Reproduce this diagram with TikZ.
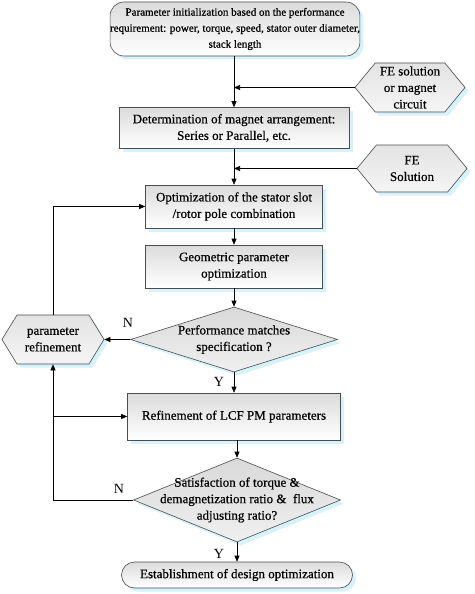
\documentclass[tikz,border=0pt]{standalone}
\usepackage{fontspec}
\setmainfont{Liberation Serif}[UprightFeatures={FakeBold=0.6}]
\newfontfamily\lblfont{Liberation Serif}
\usetikzlibrary{arrows.meta,shapes.geometric,shapes.symbols,shadows,calc}
\begin{document}
\begin{tikzpicture}[x=1pt,y=-1pt,
  shadowed/.style={drop shadow={fill=cyan!16, shadow xshift=3.5pt, shadow yshift=-3.5pt, opacity=1}},
  base/.style={draw=black!70, line width=0.6pt, top color=gray!28, bottom color=white, shadowed, align=center, inner sep=0pt, font=\fontsize{13}{16.5}\selectfont},
  boxnode/.style={base, rectangle},
  roundnode/.style={base, rectangle, rounded corners=13pt},
  decision/.style={base, diamond, top color=gray!30, bottom color=gray!12},
  hexnode/.style={base, signal, signal to=west and east, top color=gray!22, bottom color=gray!8},
  txt/.style={align=center, inner sep=0pt, font=\fontsize{13}{16.5}\selectfont},
  conn/.style={line width=0.6pt, black},
  arr/.style={conn, -{Triangle[length=6pt,width=5pt]}},
  lbl/.style={font=\lblfont\fontsize{14}{16}\selectfont}
]
\useasboundingbox (0,0) rectangle (474,594);

\node[roundnode, rounded corners=14pt, minimum width=244pt, minimum height=54pt, font=\fontsize{11}{16}\selectfont] (init) at (235,29)
  {Parameter initialization based on the performance\\requirement: power, torque, speed, stator outer diameter,\\stack length};
\node[hexnode, minimum width=110pt, minimum height=49pt, signal pointer angle=101] (fe1) at (410,87.5)
  {FE solution\\or magnet\\circuit};
\node[boxnode, minimum width=230pt, minimum height=41pt] (det) at (234,128)
  {Determination of magnet arrangement:\\Series or Parallel, etc.};
\node[hexnode, minimum width=110pt, minimum height=47pt, signal pointer angle=101] (fe2) at (412,168.5)
  {FE\\Solution};
\node[boxnode, minimum width=177pt, minimum height=43pt] (opt) at (234,206.5)
  {Optimization of the stator slot\\/rotor pole combination};
\node[boxnode, minimum width=177pt, minimum height=43pt] (geo) at (234,266.5)
  {Geometric parameter\\optimization};
\node[decision, minimum width=207pt, minimum height=65pt] (d1) at (234,339.5) {};
\node[txt] (d1t) at (d1.center) {Performance matches\\specification ?};
\node[hexnode, minimum width=102pt, minimum height=49pt, signal pointer angle=117] (pr) at (53,339.5)
  {parameter\\refinement};
\node[boxnode, minimum width=213pt, minimum height=47pt] (ref) at (234,416.5)
  {Refinement of LCF PM parameters};
\node[decision, minimum width=207pt, minimum height=84pt] (d2) at (237,500) {};
\node[txt] (d2t) at (d2.center) {Satisfaction of torque \&\\demagnetization ratio \&~ flux\\adjusting ratio?};
\node[roundnode, minimum width=231pt, minimum height=26pt] (fin) at (237,575)
  {Establishment of design optimization};

\draw[arr] (init.south -| det.north) -- (det.north);
\draw[arr] (fe1.west) -- (fe1.west -| det.north);
\draw[arr] (det.south) -- (opt.north);
\draw[arr] (fe2.west) -- (fe2.west -| opt.north);
\draw[arr] (opt.south) -- (geo.north);
\draw[arr] (geo.south) -- (d1.north);
\draw[arr] (d1.west) -- (pr.east);
\draw[arr] (pr.north) |- (opt.west);
\draw[arr] (d1.south) -- (ref.north);
\draw[arr] (d2.west) -- (d2.west -| pr.south) -- (pr.south);
\draw[arr] (pr.south |- ref.west) -- (ref.west);
\draw[arr] (d2.north |- ref.south) -- (d2.north);
\draw[arr] (d2.south) -- (fin.north);

\node[lbl] (n1) at (128,323) {N};
\node[lbl] (y1) at (219,382) {Y};
\node[lbl] (n2) at (119,489) {N};
\node[lbl] (y2) at (219,554) {Y};
\end{tikzpicture}
\end{document}
